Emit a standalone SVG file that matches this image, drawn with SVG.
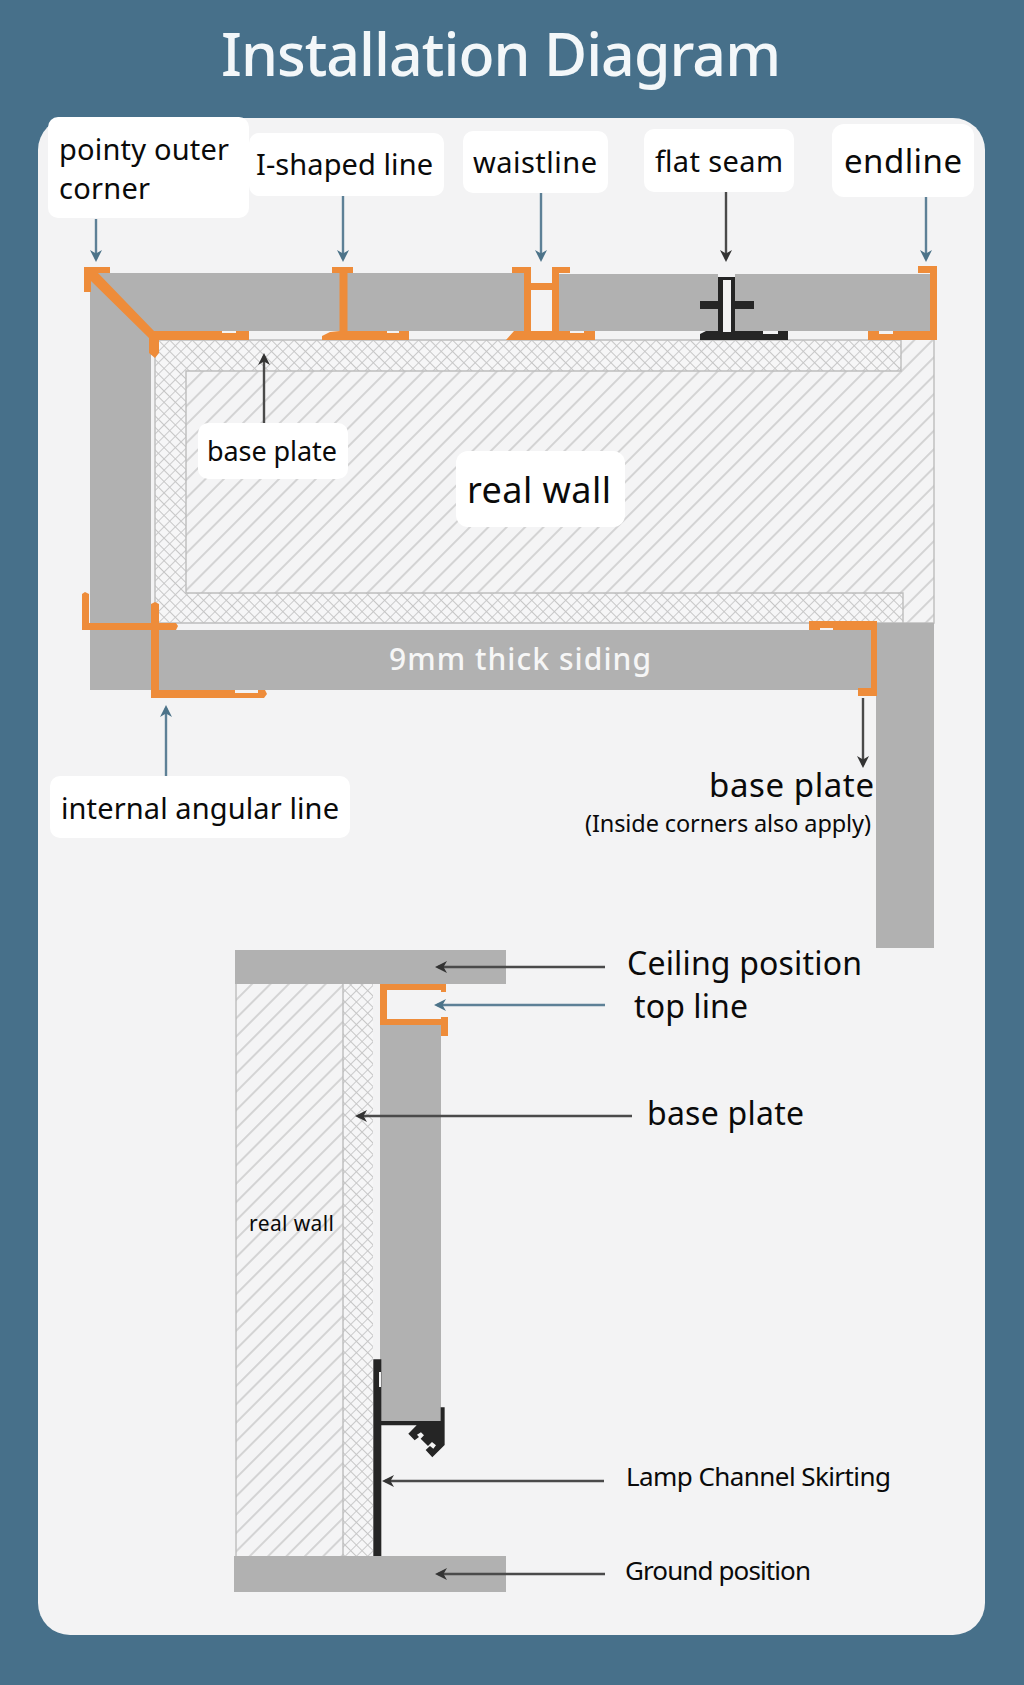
<svg xmlns="http://www.w3.org/2000/svg" width="1024" height="1685" viewBox="0 0 1024 1685">
<style>
text{font-family:"Noto Sans","Open Sans","Liberation Sans",sans-serif;fill:#0a0a0a}
.box{fill:#fff}
.panel{fill:#b1b1b1}
.or{fill:#ee8c3a}
.dk{fill:#252525}
.gap{fill:#f3f3f4}
.bl{stroke:#5d8096;stroke-width:2.4;fill:none;marker-end:url(#ab)}
.da{stroke:#4a4a4a;stroke-width:2.4;fill:none;marker-end:url(#ad)}
.edge{fill:none;stroke:#bdbdbd;stroke-width:1.4}
</style>
<defs>
<pattern id="hatch" width="13" height="13" patternUnits="userSpaceOnUse" patternTransform="rotate(45)">
<rect width="13" height="13" fill="#f4f4f5"/><line x1="3" y1="0" x2="3" y2="13" stroke="#c6c6c6" stroke-width="1.4"/>
</pattern>
<pattern id="cross" width="8" height="8" patternUnits="userSpaceOnUse" patternTransform="rotate(45)">
<rect width="8" height="8" fill="#f6f6f7"/><path d="M0 0V8M0 0H8" stroke="#c6c6c6" stroke-width="1.8" fill="none"/>
</pattern>
<marker id="ab" markerUnits="userSpaceOnUse" markerWidth="14" markerHeight="14" refX="9" refY="7" orient="auto"><path d="M12 7L0 1L3.5 7L0 13Z" fill="#4c7389"/></marker>
<marker id="ad" markerUnits="userSpaceOnUse" markerWidth="14" markerHeight="14" refX="9" refY="7" orient="auto"><path d="M12 7L0 1L3.5 7L0 13Z" fill="#333"/></marker>
</defs>
<rect width="1024" height="1685" fill="#47708a"/>
<rect x="38" y="118" width="947" height="1517" rx="32" fill="#f3f3f4"/>
<text id="title" x="221" y="76" font-size="59" font-weight="500" textLength="560" style="fill:#f3f7f9">Installation Diagram</text>

<g id="wall-plan">
<rect x="155" y="340" width="779" height="283" fill="url(#hatch)"/>
<path d="M155 340H901V371H186V593H903V623H155Z" fill="url(#cross)"/>
<path d="M155 340H901V371H186V593H903V623H155Z" class="edge"/>
<path d="M934 340V623H903" class="edge"/>
</g>
<g id="siding-plan">
<path class="panel" d="M90 273H151V690H90Z"/>
<rect class="panel" x="90" y="273" width="434" height="58"/>
<rect class="panel" x="559" y="274" width="159" height="57"/>
<rect class="panel" x="735" y="274" width="195" height="57"/>
<rect class="panel" x="151" y="630" width="720" height="60"/>
<rect class="panel" x="876" y="623" width="58" height="325"/>
<text x="389" y="670" font-size="30" font-weight="500" textLength="262" style="fill:#f6f6f6">9mm thick siding</text>
</g>

<g id="pointy-outer-corner-trim">
<path class="or" d="M84 267H110V273H98L154 331H249V340H159V353L155 358L149 353V338L91 281V292H84Z"/>
<rect class="gap" x="222" y="331" width="14" height="2"/>
</g>
<g id="i-shaped-trim">
<path class="or" d="M332 267H353V273H347.500V331H409V340H322V336L330 332L339.500 331V273H332Z"/>
<rect class="gap" x="387" y="331" width="12" height="2"/>
</g>
<g id="waistline-trim">
<path class="or" d="M512 267H531V283H552V267H570V273H559V331H595V340H506L514 331H524V273H512ZM531 290V331H552V290Z" fill-rule="evenodd"/>
<rect class="gap" x="570" y="331" width="14" height="2"/>
</g>
<g id="flat-seam-trim">
<path class="dk" d="M718 277H735V301H754V309H735V331H788V340H700V334L706 331H718V309H700V301H718ZM723 280V332H731V280Z" fill-rule="evenodd"/>
<rect class="gap" x="723" y="280" width="8" height="52"/>
<rect class="gap" x="763" y="331" width="15" height="3"/>
</g>
<g id="endline-trim">
<path class="or" d="M918 266H937V340H868V331H930V273H918Z"/>
<rect class="gap" x="879" y="331" width="14" height="3"/>
</g>
<g id="internal-corner-trim">
<path class="or" d="M82 594L85 592L89 594V623H151V604L155 602L159 604V623H176L178 626L176 630H159V690H265L267 694L264 698H151V630H82Z"/>
<rect class="gap" x="235" y="690" width="23" height="3"/>
</g>
<g id="end-trim-lower">
<path class="or" d="M809 621H877V696H858V688H871V630H809Z"/>
<rect class="gap" x="820" y="628" width="13" height="2"/>
</g>

<g id="section-wall">
<rect x="236" y="984" width="107" height="572" fill="url(#hatch)"/>
<rect x="343" y="984" width="30" height="572" fill="url(#cross)"/>
<path class="edge" d="M236 984V1556M343 984V1556"/>
<text x="249" y="1231" font-size="21" textLength="85">real wall</text>
</g>
<g id="ceiling"><rect class="panel" x="235" y="950" width="271" height="34"/></g>
<g id="section-panel"><rect class="panel" x="380" y="1024" width="61" height="397"/></g>
<g id="top-line-trim">
<path class="or" d="M380 984H446V992H441V990H387V1019H441V1017H448V1036H441V1025H380Z"/>
</g>
<g id="lamp-channel-skirting">
<path class="dk" transform="translate(220 1340) scale(.3333)" d="M484 243H662V202H674V315L637 352L617 330L630 318L640 326L648 316L636 306L624 318L618 312L602 296L612 286L603 277L591 284L597 291L584 301L565 281L590 256H484V648H460V58H484Z"/>
<rect class="gap" x="379" y="1372" width="2" height="15"/>
</g>
<g id="floor"><rect class="panel" x="234" y="1556" width="272" height="36"/></g>

<g id="connectors">
<path class="bl" d="M96 219V259"/>
<path class="bl" d="M343 196V259"/>
<path class="bl" d="M541 193V259"/>
<path class="da" d="M726 192V259"/>
<path class="bl" d="M926 197V259"/>
<path class="da" d="M264 423V356"/>
<path class="bl" d="M166 776V708"/>
<path class="da" d="M863 698V765"/>
<path class="da" d="M605 967H438"/>
<path class="bl" d="M605 1005H437"/>
<path class="da" d="M632 1116H358"/>
<path class="da" d="M604 1481H385"/>
<path class="da" d="M605 1574H438"/>
</g>

<g id="label-pointy"><rect class="box" x="48" y="117" width="201" height="101" rx="10"/><text x="59" y="160" font-size="29" textLength="170">pointy outer</text><text x="59" y="199" font-size="29" textLength="91">corner</text></g>
<g id="label-i-shaped"><rect class="box" x="249" y="133" width="195" height="63" rx="10"/><text x="256" y="175" font-size="29" textLength="177">I-shaped line</text></g>
<g id="label-waistline"><rect class="box" x="463" y="131" width="145" height="62" rx="10"/><text x="473" y="173" font-size="29" textLength="124">waistline</text></g>
<g id="label-flat-seam"><rect class="box" x="644" y="129" width="150" height="63" rx="10"/><text x="655" y="172" font-size="29" textLength="128">flat seam</text></g>
<g id="label-endline"><rect class="box" x="832" y="124" width="142" height="73" rx="12"/><text x="844" y="173" font-size="33" textLength="118">endline</text></g>
<g id="label-base-plate"><rect class="box" x="198" y="423" width="150" height="56" rx="10"/><text x="207" y="461" font-size="27" textLength="130">base plate</text></g>
<g id="label-real-wall"><rect class="box" x="456" y="451" width="169" height="76" rx="12"/><text x="467" y="503" font-size="36" textLength="144">real wall</text></g>
<g id="label-internal"><rect class="box" x="50" y="776" width="300" height="62" rx="10"/><text x="61" y="819" font-size="29" textLength="278">internal angular line</text></g>
<g id="label-base-plate-2"><text x="709" y="797" font-size="33" textLength="165">base plate</text><text x="585" y="832" font-size="23.5" textLength="286">(Inside corners also apply)</text></g>
<g id="label-section">
<text x="627" y="975" font-size="32" textLength="235">Ceiling position</text>
<text x="634" y="1018" font-size="32" textLength="114">top line</text>
<text x="647" y="1125" font-size="32" textLength="157">base plate</text>
<text x="626" y="1486" font-size="26" textLength="265">Lamp Channel Skirting</text>
<text x="625" y="1580" font-size="26" textLength="186">Ground position</text>
</g>
</svg>
